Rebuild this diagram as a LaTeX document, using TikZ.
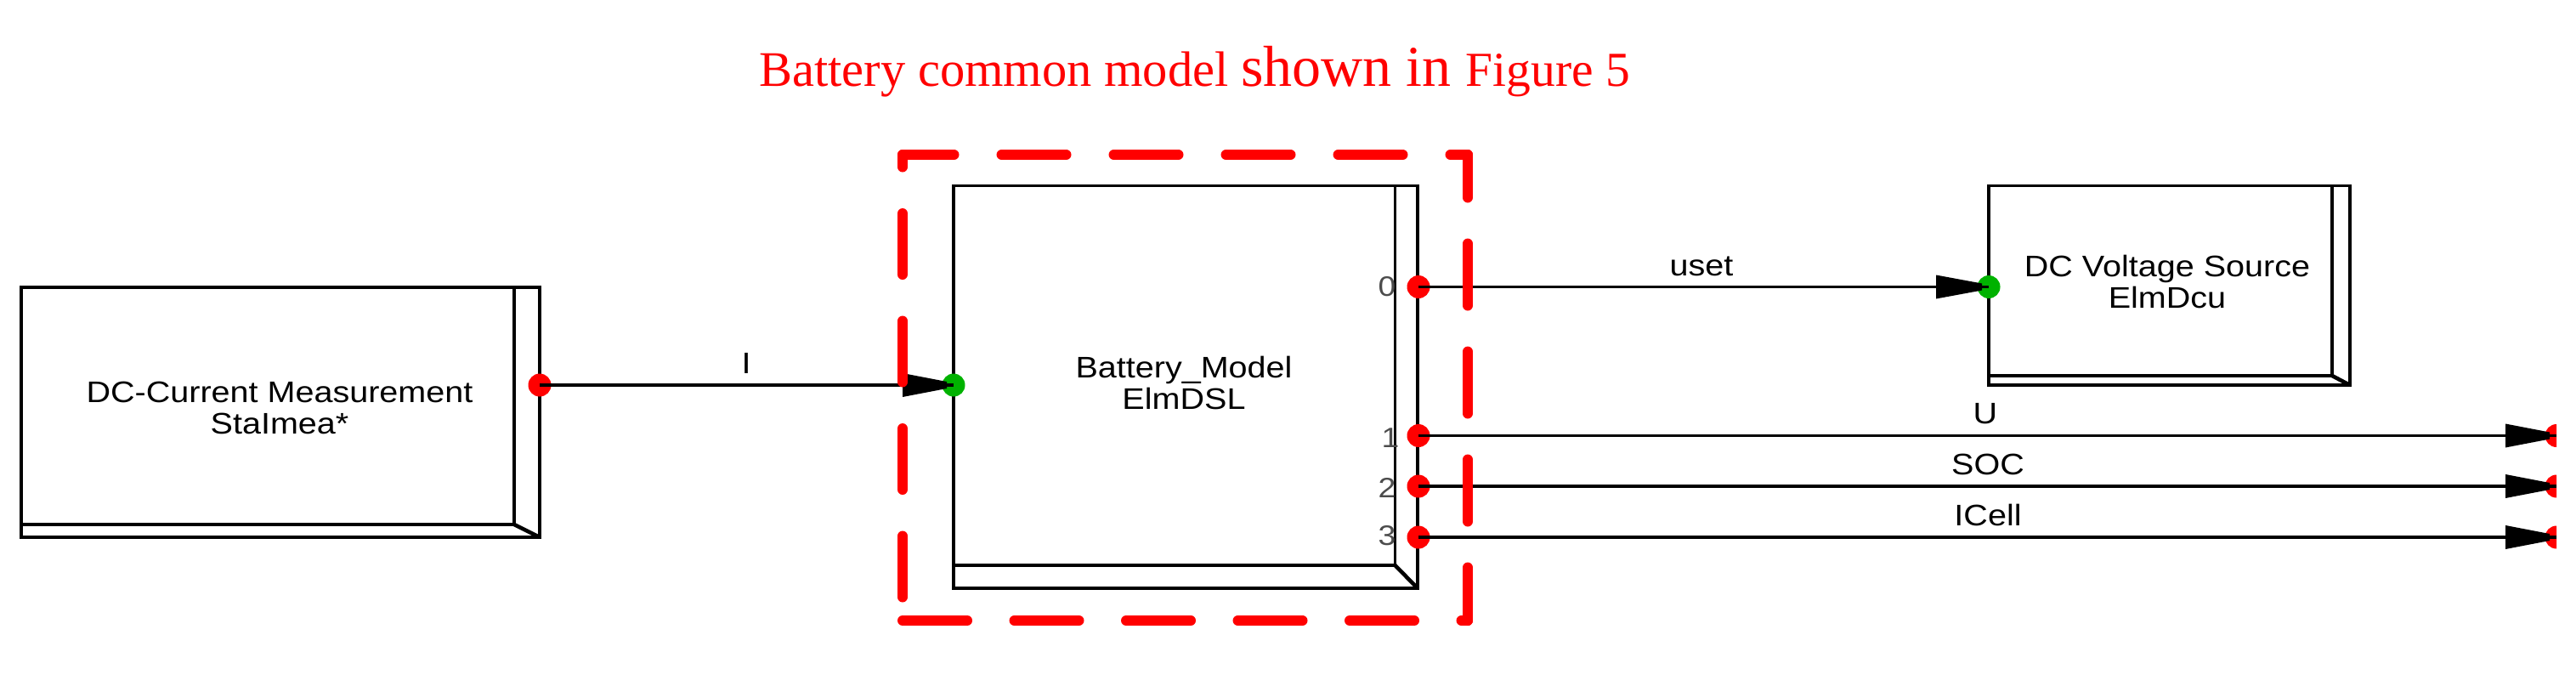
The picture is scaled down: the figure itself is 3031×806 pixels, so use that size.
\documentclass[tikz,border=0pt]{standalone}
\usepackage{fontspec}
\setmainfont{Liberation Serif}
\newfontfamily\diagfont{Liberation Sans}[FakeStretch=1.13]
\begin{document}
\begin{tikzpicture}[x=1pt,y=-1pt,
  box/.style={draw=black,line width=3.7pt},
  edge3d/.style={draw=black,line width=3.3pt},
  corner/.style={draw=black,line width=4.6pt},
  conn/.style={draw=black,line width=3.8pt},
  lab/.style={font=\diagfont\fontsize{35}{37}\selectfont,text=black,inner sep=0pt,align=center},
  digit/.style={font=\diagfont\fontsize{33}{37}\selectfont,text=black!70,inner sep=0pt},
  portr/.style={circle,fill=red,draw=none,minimum size=27pt,inner sep=0pt},
  portg/.style={circle,fill=green!70!black,draw=none,minimum size=27pt,inner sep=0pt},
  frame/.style={draw=red,line width=12pt,line cap=round}]
\useasboundingbox (0,0) rectangle (3031,806);
% title
\node[anchor=base west,inner sep=0pt,text=red] (title) at (893,101)
  {\fontsize{58.5}{60}\selectfont Battery common model \fontsize{68}{70}\selectfont shown in \fontsize{57.5}{60}\selectfont Figure 5};
% blocks
\coordinate (a1) at (25,338); \coordinate (a2) at (635,632);
\coordinate (b1) at (1122,218.5); \coordinate (b2) at (1668,692);
\coordinate (c1) at (2340,218.5); \coordinate (c2) at (2765,453);
\draw[box] (a1) rectangle (a2);
\draw[edge3d] (605,338) -- (605,617) -- (25,617);
\draw[corner] (605,617) -- (633,631);
\draw[box] (b1) rectangle (b2);
\draw[edge3d] (1641.5,218.5) -- (1641.5,665) -- (1122,665);
\draw[corner] (1641.5,665) -- (1666,690);
\draw[box] (c1) rectangle (c2);
\draw[edge3d] (2744,218.5) -- (2744,442) -- (2340,442);
\draw[corner] (2744,442) -- (2763,452);
\node[lab] (atext) at (329,480) {DC-Current Measurement\\StaImea*};
\node[lab] (btext) at (1393,450.5) {Battery\_Model\\ElmDSL};
\node[lab] (ctext) at (2550,331) {DC Voltage Source\\ElmDcu};
% ports
\node[portr] (aout) at (635,453) {};
\node[portg] (bin) at (1122,453) {};
\node[portr] (b0) at (1669,337.5) {};
\node[portr] (b1p) at (1669,512.5) {};
\node[portr] (b2p) at (1669,572) {};
\node[portr] (b3p) at (1669,632) {};
\node[portg] (cin) at (2340,337.5) {};
\begin{scope}
\clip (0,0) rectangle (3008,806);
\node[portr] (o1) at (3008,512.5) {};
\node[portr] (o2) at (3008,572) {};
\node[portr] (o3) at (3008,632) {};
\end{scope}
% connectors
\draw[conn] (aout.center) -- (bin.center);
\draw[conn] (b0.center) -- (cin.center);
\draw[conn] (b1p.center) -- (o1.center);
\draw[conn] (b2p.center) -- (o2.center);
\draw[conn] (b3p.center) -- (o3.center);
% arrow heads
\foreach \p/\b in {bin/60,cin/62,o1/60,o2/60,o3/60}{
  \fill[black] ([xshift=-\b pt,yshift=14pt]\p.center) -- ([xshift=-\b pt,yshift=-14pt]\p.center) -- ([xshift=-8pt,yshift=-4pt]\p.center) -- ([xshift=-8pt,yshift=4pt]\p.center) -- cycle;
}
% labels
\node[lab] (li) at (878,427) {I};
\node[lab] (luset) at (2002,313) {uset};
\node[lab] (lu) at (2336,487) {U};
\node[lab] (lsoc) at (2339,546) {SOC};
\node[lab] (licell) at (2339,606) {ICell};
\node[digit] (p0) at (1632,337) {0};
\node[digit] (p1) at (1636,515) {1};
\node[digit] (p2) at (1632,574) {2};
\node[digit] (p3) at (1632,630) {3};
% red dashed frame
\coordinate (f1) at (1062,182); \coordinate (f2) at (1727,182);
\coordinate (f3) at (1727,730); \coordinate (f4) at (1062,730);
\draw[frame,dash pattern=on 76pt off 56pt,dash phase=15.5pt] (f1) -- (f2);
\draw[frame,dash pattern=on 73pt off 54pt,dash phase=22.5pt] (f2) -- (f3);
\draw[frame,dash pattern=on 76pt off 55.5pt] (f4) -- (f3);
\draw[frame,dash pattern=on 72pt off 54.5pt,dash phase=57.5pt] (f1) -- (f4);
\end{tikzpicture}
\end{document}
